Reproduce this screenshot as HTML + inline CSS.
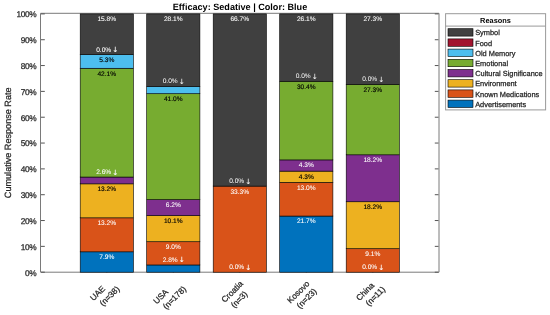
<!DOCTYPE html><html><head><meta charset="utf-8"><style>html,body{margin:0;padding:0;background:#fff;width:550px;height:315px;overflow:hidden}svg{display:block}text{font-family:"Liberation Sans",Arial,Helvetica,sans-serif;text-rendering:geometricPrecision}.k{stroke:#262626;stroke-width:0.25px}.kb{stroke:#000;stroke-width:0.25px}</style></head><body>
<svg width="550" height="315" viewBox="0 0 550 315">
<rect x="0" y="0" width="550" height="315" fill="#fff"/>
<rect x="40.5" y="13.5" width="399" height="259" fill="#fff"/>
<g fill="none" stroke="#7a7a7a" stroke-width="1">
<path d="M40.5 13.3 H439.0 V272.2 H40.5 Z"/>
</g>
<g fill="none" stroke="#555" stroke-width="1">
<path d="M41 272.20 H44.8 M438.5 272.20 H434.8"/>
<path d="M41 246.37 H44.8 M438.5 246.37 H434.8"/>
<path d="M41 220.54 H44.8 M438.5 220.54 H434.8"/>
<path d="M41 194.71 H44.8 M438.5 194.71 H434.8"/>
<path d="M41 168.88 H44.8 M438.5 168.88 H434.8"/>
<path d="M41 143.05 H44.8 M438.5 143.05 H434.8"/>
<path d="M41 117.22 H44.8 M438.5 117.22 H434.8"/>
<path d="M41 91.39 H44.8 M438.5 91.39 H434.8"/>
<path d="M41 65.56 H44.8 M438.5 65.56 H434.8"/>
<path d="M41 39.73 H44.8 M438.5 39.73 H434.8"/>
<path d="M41 13.90 H44.8 M438.5 13.90 H434.8"/>
<path d="M106.80 272.5 V268.5 M106.80 13.5 V17.5"/>
<path d="M173.30 272.5 V268.5 M173.30 13.5 V17.5"/>
<path d="M239.80 272.5 V268.5 M239.80 13.5 V17.5"/>
<path d="M306.30 272.5 V268.5 M306.30 13.5 V17.5"/>
<path d="M372.80 272.5 V268.5 M372.80 13.5 V17.5"/>
</g>
<rect x="80.20" y="251.81" width="53.20" height="20.39" fill="#0072BD" stroke="#000" stroke-width="0.6"/>
<rect x="80.20" y="217.82" width="53.20" height="33.99" fill="#D95319" stroke="#000" stroke-width="0.6"/>
<rect x="80.20" y="183.83" width="53.20" height="33.99" fill="#EDB120" stroke="#000" stroke-width="0.6"/>
<rect x="80.20" y="177.04" width="53.20" height="6.80" fill="#7E2F8E" stroke="#000" stroke-width="0.6"/>
<rect x="80.20" y="68.28" width="53.20" height="108.76" fill="#77AC30" stroke="#000" stroke-width="0.6"/>
<rect x="80.20" y="54.68" width="53.20" height="13.59" fill="#4DBEEE" stroke="#000" stroke-width="0.6"/>
<rect x="80.20" y="54.68" width="53.20" height="0.00" fill="#A2142F" stroke="#000" stroke-width="0.6"/>
<rect x="80.20" y="13.90" width="53.20" height="40.78" fill="#404040" stroke="#000" stroke-width="0.6"/>
<rect x="146.70" y="264.94" width="53.20" height="7.26" fill="#0072BD" stroke="#000" stroke-width="0.6"/>
<rect x="146.70" y="241.73" width="53.20" height="23.22" fill="#D95319" stroke="#000" stroke-width="0.6"/>
<rect x="146.70" y="215.61" width="53.20" height="26.12" fill="#EDB120" stroke="#000" stroke-width="0.6"/>
<rect x="146.70" y="199.64" width="53.20" height="15.96" fill="#7E2F8E" stroke="#000" stroke-width="0.6"/>
<rect x="146.70" y="93.71" width="53.20" height="105.93" fill="#77AC30" stroke="#000" stroke-width="0.6"/>
<rect x="146.70" y="86.46" width="53.20" height="7.26" fill="#4DBEEE" stroke="#000" stroke-width="0.6"/>
<rect x="146.70" y="86.46" width="53.20" height="0.00" fill="#A2142F" stroke="#000" stroke-width="0.6"/>
<rect x="146.70" y="13.90" width="53.20" height="72.56" fill="#404040" stroke="#000" stroke-width="0.6"/>
<rect x="213.20" y="272.20" width="53.20" height="0.00" fill="#0072BD" stroke="#000" stroke-width="0.6"/>
<rect x="213.20" y="186.10" width="53.20" height="86.10" fill="#D95319" stroke="#000" stroke-width="0.6"/>
<rect x="213.20" y="186.10" width="53.20" height="0.00" fill="#EDB120" stroke="#000" stroke-width="0.6"/>
<rect x="213.20" y="186.10" width="53.20" height="0.00" fill="#7E2F8E" stroke="#000" stroke-width="0.6"/>
<rect x="213.20" y="186.10" width="53.20" height="0.00" fill="#77AC30" stroke="#000" stroke-width="0.6"/>
<rect x="213.20" y="186.10" width="53.20" height="0.00" fill="#4DBEEE" stroke="#000" stroke-width="0.6"/>
<rect x="213.20" y="186.10" width="53.20" height="0.00" fill="#A2142F" stroke="#000" stroke-width="0.6"/>
<rect x="213.20" y="13.90" width="53.20" height="172.20" fill="#404040" stroke="#000" stroke-width="0.6"/>
<rect x="279.70" y="216.05" width="53.20" height="56.15" fill="#0072BD" stroke="#000" stroke-width="0.6"/>
<rect x="279.70" y="182.36" width="53.20" height="33.69" fill="#D95319" stroke="#000" stroke-width="0.6"/>
<rect x="279.70" y="171.13" width="53.20" height="11.23" fill="#EDB120" stroke="#000" stroke-width="0.6"/>
<rect x="279.70" y="159.90" width="53.20" height="11.23" fill="#7E2F8E" stroke="#000" stroke-width="0.6"/>
<rect x="279.70" y="81.28" width="53.20" height="78.61" fill="#77AC30" stroke="#000" stroke-width="0.6"/>
<rect x="279.70" y="81.28" width="53.20" height="0.00" fill="#4DBEEE" stroke="#000" stroke-width="0.6"/>
<rect x="279.70" y="81.28" width="53.20" height="0.00" fill="#A2142F" stroke="#000" stroke-width="0.6"/>
<rect x="279.70" y="13.90" width="53.20" height="67.38" fill="#404040" stroke="#000" stroke-width="0.6"/>
<rect x="346.20" y="272.20" width="53.20" height="0.00" fill="#0072BD" stroke="#000" stroke-width="0.6"/>
<rect x="346.20" y="248.72" width="53.20" height="23.48" fill="#D95319" stroke="#000" stroke-width="0.6"/>
<rect x="346.20" y="201.75" width="53.20" height="46.96" fill="#EDB120" stroke="#000" stroke-width="0.6"/>
<rect x="346.20" y="154.79" width="53.20" height="46.96" fill="#7E2F8E" stroke="#000" stroke-width="0.6"/>
<rect x="346.20" y="84.35" width="53.20" height="70.45" fill="#77AC30" stroke="#000" stroke-width="0.6"/>
<rect x="346.20" y="84.35" width="53.20" height="0.00" fill="#4DBEEE" stroke="#000" stroke-width="0.6"/>
<rect x="346.20" y="84.35" width="53.20" height="0.00" fill="#A2142F" stroke="#000" stroke-width="0.6"/>
<rect x="346.20" y="13.90" width="53.20" height="70.45" fill="#404040" stroke="#000" stroke-width="0.6"/>
<text x="106.80" y="259.21" font-size="6.6" fill="#fff" stroke="#fff" stroke-width="0.08" text-anchor="middle">7.9%</text>
<text x="106.80" y="225.22" font-size="6.6" fill="#fff" stroke="#fff" stroke-width="0.08" text-anchor="middle">13.2%</text>
<text x="106.80" y="191.23" font-size="6.6" fill="#000" stroke="#000" stroke-width="0.15" text-anchor="middle">13.2%</text>
<text x="107.30" y="173.94" font-size="6.6" fill="#fff" stroke="#fff" stroke-width="0.08" text-anchor="middle">2.6% <tspan font-family="DejaVu Sans" font-size="7.2" dx="-0.7" dy="0.6">↓</tspan></text>
<text x="106.80" y="75.68" font-size="6.6" fill="#000" stroke="#000" stroke-width="0.15" text-anchor="middle">42.1%</text>
<text x="106.80" y="62.08" font-size="6.6" fill="#000" stroke="#000" stroke-width="0.15" text-anchor="middle">5.3%</text>
<text x="107.30" y="51.58" font-size="6.6" fill="#fff" stroke="#fff" stroke-width="0.08" text-anchor="middle">0.0% <tspan font-family="DejaVu Sans" font-size="7.2" dx="-0.7" dy="0.6">↓</tspan></text>
<text x="106.80" y="21.30" font-size="6.6" fill="#fff" stroke="#fff" stroke-width="0.08" text-anchor="middle">15.8%</text>
<text x="173.80" y="261.84" font-size="6.6" fill="#fff" stroke="#fff" stroke-width="0.08" text-anchor="middle">2.8% <tspan font-family="DejaVu Sans" font-size="7.2" dx="-0.7" dy="0.6">↓</tspan></text>
<text x="173.30" y="249.13" font-size="6.6" fill="#fff" stroke="#fff" stroke-width="0.08" text-anchor="middle">9.0%</text>
<text x="173.30" y="223.01" font-size="6.6" fill="#000" stroke="#000" stroke-width="0.15" text-anchor="middle">10.1%</text>
<text x="173.30" y="207.04" font-size="6.6" fill="#fff" stroke="#fff" stroke-width="0.08" text-anchor="middle">6.2%</text>
<text x="173.30" y="101.11" font-size="6.6" fill="#000" stroke="#000" stroke-width="0.15" text-anchor="middle">41.0%</text>
<text x="173.80" y="83.36" font-size="6.6" fill="#000" stroke="#000" stroke-width="0.15" text-anchor="middle">2.8% <tspan font-family="DejaVu Sans" font-size="7.2" dx="-0.7" dy="0.6">↓</tspan></text>
<text x="173.80" y="83.36" font-size="6.6" fill="#fff" stroke="#fff" stroke-width="0.08" text-anchor="middle">0.0% <tspan font-family="DejaVu Sans" font-size="7.2" dx="-0.7" dy="0.6">↓</tspan></text>
<text x="173.30" y="21.30" font-size="6.6" fill="#fff" stroke="#fff" stroke-width="0.08" text-anchor="middle">28.1%</text>
<text x="240.30" y="269.10" font-size="6.6" fill="#fff" stroke="#fff" stroke-width="0.08" text-anchor="middle">0.0% <tspan font-family="DejaVu Sans" font-size="7.2" dx="-0.7" dy="0.6">↓</tspan></text>
<text x="239.80" y="193.50" font-size="6.6" fill="#fff" stroke="#fff" stroke-width="0.08" text-anchor="middle">33.3%</text>
<text x="240.30" y="183.00" font-size="6.6" fill="#000" stroke="#000" stroke-width="0.15" text-anchor="middle">0.0% <tspan font-family="DejaVu Sans" font-size="7.2" dx="-0.7" dy="0.6">↓</tspan></text>
<text x="240.30" y="183.00" font-size="6.6" fill="#fff" stroke="#fff" stroke-width="0.08" text-anchor="middle">0.0% <tspan font-family="DejaVu Sans" font-size="7.2" dx="-0.7" dy="0.6">↓</tspan></text>
<text x="240.30" y="183.00" font-size="6.6" fill="#000" stroke="#000" stroke-width="0.15" text-anchor="middle">0.0% <tspan font-family="DejaVu Sans" font-size="7.2" dx="-0.7" dy="0.6">↓</tspan></text>
<text x="240.30" y="183.00" font-size="6.6" fill="#000" stroke="#000" stroke-width="0.15" text-anchor="middle">0.0% <tspan font-family="DejaVu Sans" font-size="7.2" dx="-0.7" dy="0.6">↓</tspan></text>
<text x="240.30" y="183.00" font-size="6.6" fill="#fff" stroke="#fff" stroke-width="0.08" text-anchor="middle">0.0% <tspan font-family="DejaVu Sans" font-size="7.2" dx="-0.7" dy="0.6">↓</tspan></text>
<text x="239.80" y="21.30" font-size="6.6" fill="#fff" stroke="#fff" stroke-width="0.08" text-anchor="middle">66.7%</text>
<text x="306.30" y="223.45" font-size="6.6" fill="#fff" stroke="#fff" stroke-width="0.08" text-anchor="middle">21.7%</text>
<text x="306.30" y="189.76" font-size="6.6" fill="#fff" stroke="#fff" stroke-width="0.08" text-anchor="middle">13.0%</text>
<text x="306.30" y="178.53" font-size="6.6" fill="#000" stroke="#000" stroke-width="0.15" text-anchor="middle">4.3%</text>
<text x="306.30" y="167.30" font-size="6.6" fill="#fff" stroke="#fff" stroke-width="0.08" text-anchor="middle">4.3%</text>
<text x="306.30" y="88.68" font-size="6.6" fill="#000" stroke="#000" stroke-width="0.15" text-anchor="middle">30.4%</text>
<text x="306.80" y="78.18" font-size="6.6" fill="#000" stroke="#000" stroke-width="0.15" text-anchor="middle">0.0% <tspan font-family="DejaVu Sans" font-size="7.2" dx="-0.7" dy="0.6">↓</tspan></text>
<text x="306.80" y="78.18" font-size="6.6" fill="#fff" stroke="#fff" stroke-width="0.08" text-anchor="middle">0.0% <tspan font-family="DejaVu Sans" font-size="7.2" dx="-0.7" dy="0.6">↓</tspan></text>
<text x="306.30" y="21.30" font-size="6.6" fill="#fff" stroke="#fff" stroke-width="0.08" text-anchor="middle">26.1%</text>
<text x="373.30" y="269.10" font-size="6.6" fill="#fff" stroke="#fff" stroke-width="0.08" text-anchor="middle">0.0% <tspan font-family="DejaVu Sans" font-size="7.2" dx="-0.7" dy="0.6">↓</tspan></text>
<text x="372.80" y="256.12" font-size="6.6" fill="#fff" stroke="#fff" stroke-width="0.08" text-anchor="middle">9.1%</text>
<text x="372.80" y="209.15" font-size="6.6" fill="#000" stroke="#000" stroke-width="0.15" text-anchor="middle">18.2%</text>
<text x="372.80" y="162.19" font-size="6.6" fill="#fff" stroke="#fff" stroke-width="0.08" text-anchor="middle">18.2%</text>
<text x="372.80" y="91.75" font-size="6.6" fill="#000" stroke="#000" stroke-width="0.15" text-anchor="middle">27.3%</text>
<text x="373.30" y="81.25" font-size="6.6" fill="#000" stroke="#000" stroke-width="0.15" text-anchor="middle">0.0% <tspan font-family="DejaVu Sans" font-size="7.2" dx="-0.7" dy="0.6">↓</tspan></text>
<text x="373.30" y="81.25" font-size="6.6" fill="#fff" stroke="#fff" stroke-width="0.08" text-anchor="middle">0.0% <tspan font-family="DejaVu Sans" font-size="7.2" dx="-0.7" dy="0.6">↓</tspan></text>
<text x="372.80" y="21.30" font-size="6.6" fill="#fff" stroke="#fff" stroke-width="0.08" text-anchor="middle">27.3%</text>
<text x="36.2" y="275.90" class="k" font-size="8.3" letter-spacing="-0.4" fill="#262626" text-anchor="end">0%</text>
<text x="36.2" y="250.00" class="k" font-size="8.3" letter-spacing="-0.4" fill="#262626" text-anchor="end">10%</text>
<text x="36.2" y="224.10" class="k" font-size="8.3" letter-spacing="-0.4" fill="#262626" text-anchor="end">20%</text>
<text x="36.2" y="198.20" class="k" font-size="8.3" letter-spacing="-0.4" fill="#262626" text-anchor="end">30%</text>
<text x="36.2" y="172.30" class="k" font-size="8.3" letter-spacing="-0.4" fill="#262626" text-anchor="end">40%</text>
<text x="36.2" y="146.40" class="k" font-size="8.3" letter-spacing="-0.4" fill="#262626" text-anchor="end">50%</text>
<text x="36.2" y="120.50" class="k" font-size="8.3" letter-spacing="-0.4" fill="#262626" text-anchor="end">60%</text>
<text x="36.2" y="94.60" class="k" font-size="8.3" letter-spacing="-0.4" fill="#262626" text-anchor="end">70%</text>
<text x="36.2" y="68.70" class="k" font-size="8.3" letter-spacing="-0.4" fill="#262626" text-anchor="end">80%</text>
<text x="36.2" y="42.80" class="k" font-size="8.3" letter-spacing="-0.4" fill="#262626" text-anchor="end">90%</text>
<text x="36.2" y="16.90" class="k" font-size="8.3" letter-spacing="-0.4" fill="#262626" text-anchor="end">100%</text>
<g transform="translate(106.80,272.20) rotate(-45)">
<text x="-30.03" y="11.2" class="k" font-size="8.3" fill="#262626">UAE</text>
<text x="-27.02" y="21.6" class="k" font-size="8.3" fill="#262626">(n=38)</text>
</g>
<g transform="translate(173.30,272.20) rotate(-45)">
<text x="-34.65" y="11.2" class="k" font-size="8.3" fill="#262626">USA</text>
<text x="-31.64" y="21.6" class="k" font-size="8.3" fill="#262626">(n=178)</text>
</g>
<g transform="translate(239.80,272.20) rotate(-45)">
<text x="-32.56" y="11.2" class="k" font-size="8.3" fill="#262626">Croatia</text>
<text x="-29.56" y="21.6" class="k" font-size="8.3" fill="#262626">(n=3)</text>
</g>
<g transform="translate(306.30,272.20) rotate(-45)">
<text x="-33.49" y="11.2" class="k" font-size="8.3" fill="#262626">Kosovo</text>
<text x="-30.48" y="21.6" class="k" font-size="8.3" fill="#262626">(n=23)</text>
</g>
<g transform="translate(372.80,272.20) rotate(-45)">
<text x="-30.03" y="11.2" class="k" font-size="8.3" fill="#262626">China</text>
<text x="-27.02" y="21.6" class="k" font-size="8.3" fill="#262626">(n=11)</text>
</g>
<text transform="translate(10.8,142.8) rotate(-90)" class="k" font-size="9.1" fill="#262626" text-anchor="middle">Cumulative Response Rate</text>
<text x="240" y="10" font-size="9.1" font-weight="bold" fill="#000" text-anchor="middle">Efficacy: Sedative | Color: Blue</text>
<rect x="445.6" y="13.7" width="100" height="96.2" fill="#fff" stroke="#999" stroke-width="1"/>
<path d="M445.6 26.1 H545.6" stroke="#999" stroke-width="1"/>
<text x="495.5" y="22.8" font-size="7.4" font-weight="bold" fill="#000" text-anchor="middle">Reasons</text>
<rect x="448" y="28.70" width="25" height="7.4" fill="#404040" stroke="#000" stroke-width="0.6"/>
<text x="475.2" y="35.30" class="k" font-size="7.4" fill="#1a1a1a">Symbol</text>
<rect x="448" y="38.90" width="25" height="7.4" fill="#A2142F" stroke="#000" stroke-width="0.6"/>
<text x="475.2" y="45.50" class="k" font-size="7.4" fill="#1a1a1a">Food</text>
<rect x="448" y="49.10" width="25" height="7.4" fill="#4DBEEE" stroke="#000" stroke-width="0.6"/>
<text x="475.2" y="55.70" class="k" font-size="7.4" fill="#1a1a1a">Old Memory</text>
<rect x="448" y="59.30" width="25" height="7.4" fill="#77AC30" stroke="#000" stroke-width="0.6"/>
<text x="475.2" y="65.90" class="k" font-size="7.4" fill="#1a1a1a">Emotional</text>
<rect x="448" y="69.50" width="25" height="7.4" fill="#7E2F8E" stroke="#000" stroke-width="0.6"/>
<text x="475.2" y="76.10" class="k" font-size="7.4" fill="#1a1a1a">Cultural Significance</text>
<rect x="448" y="79.70" width="25" height="7.4" fill="#EDB120" stroke="#000" stroke-width="0.6"/>
<text x="475.2" y="86.30" class="k" font-size="7.4" fill="#1a1a1a">Environment</text>
<rect x="448" y="89.90" width="25" height="7.4" fill="#D95319" stroke="#000" stroke-width="0.6"/>
<text x="475.2" y="96.50" class="k" font-size="7.4" fill="#1a1a1a">Known Medications</text>
<rect x="448" y="100.10" width="25" height="7.4" fill="#0072BD" stroke="#000" stroke-width="0.6"/>
<text x="475.2" y="106.70" class="k" font-size="7.4" fill="#1a1a1a">Advertisements</text>
</svg></body></html>
